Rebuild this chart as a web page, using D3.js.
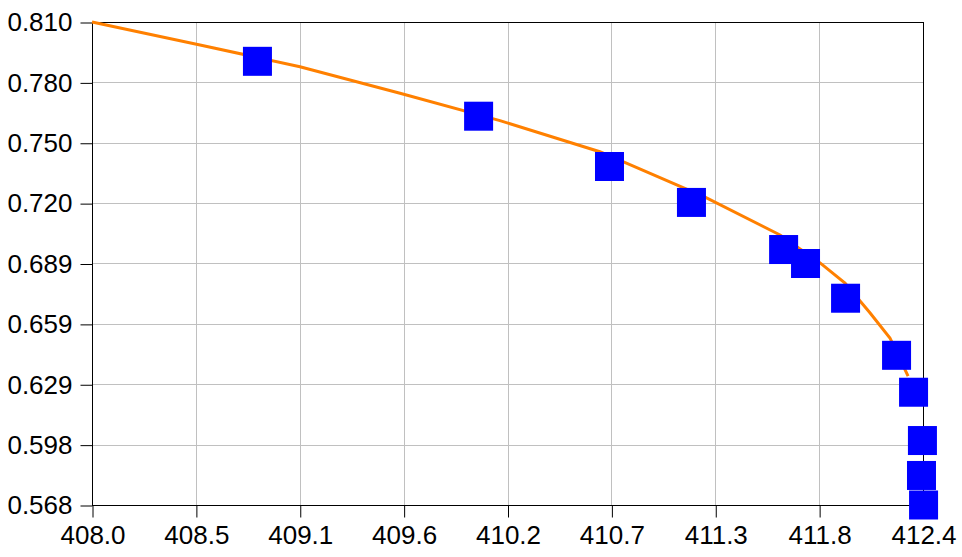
<!DOCTYPE html>
<html lang='en'>
<head>
	<meta charset='UTF-8'>
	<title>Document</title>
	<style>
		body { margin: 0; background: #fff; }
		text { font-family: 'Liberation Sans', Arial, sans-serif; }
	</style>
</head>
<body>

<svg></svg>

<script src='https://d3js.org/d3.v7.min.js'></script>
<script>
// measured points (blue squares)
const pointX = [408.876, 410.047, 410.740, 411.174, 411.662, 411.778, 411.990, 412.260, 412.350, 412.397, 412.392, 412.403]
const pointY = [0.7903, 0.7628, 0.7376, 0.7196, 0.6960, 0.6890, 0.6716, 0.6430, 0.6245, 0.6003, 0.5828, 0.5680]

// fitted curve (orange)
const curveX = [408.000, 408.572, 409.101, 409.631, 410.160, 410.689, 411.246, 411.643, 411.855, 411.987, 412.120, 412.225, 412.321]
const curveY = [0.8100, 0.7985, 0.7876, 0.7743, 0.7606, 0.7450, 0.7223, 0.7033, 0.6893, 0.6792, 0.6642, 0.6517, 0.6326]

const xTickLabels = ['408.0', '408.5', '409.1', '409.6', '410.2', '410.7', '411.3', '411.8', '412.4']
const yTickLabels = ['0.568', '0.598', '0.629', '0.659', '0.689', '0.720', '0.750', '0.780', '0.810']

const width = 962
const height = 557
const plotL = 92, plotR = 923, plotT = 22, plotB = 505
const markerSize = 29

const svg = d3.select('svg')
	.attr('width', width)
	.attr('height', height)

const x = d3.scaleLinear().domain([408.0, 412.4]).range([plotL, plotR])
const y = d3.scaleLinear().domain([0.568, 0.810]).range([plotB, plotT])

const xTicks = xTickLabels.map((d, i) => 408.0 + i * 0.55)
const yTicks = yTickLabels.map((d, i) => 0.568 + i * (0.810 - 0.568) / 8)

// grid
svg.append('g')
	.selectAll('line')
	.data(xTicks.slice(1, -1))
	.enter().append('line')
	.attr('x1', d => Math.round(x(d)) + 0.5).attr('x2', d => Math.round(x(d)) + 0.5)
	.attr('y1', plotT).attr('y2', plotB)
	.attr('stroke', '#c0c0c0')
svg.append('g')
	.selectAll('line')
	.data(yTicks.slice(1, -1))
	.enter().append('line')
	.attr('y1', d => Math.round(y(d)) + 0.5).attr('y2', d => Math.round(y(d)) + 0.5)
	.attr('x1', plotL).attr('x2', plotR)
	.attr('stroke', '#c0c0c0')

// frame
svg.append('rect')
	.attr('x', plotL + 0.5).attr('y', plotT + 0.5)
	.attr('width', plotR - plotL).attr('height', plotB - plotT)
	.attr('fill', 'none').attr('stroke', 'black')

// axes
svg.append('g')
	.attr('transform', `translate(0.5,${plotB + 0.5})`)
	.call(d3.axisBottom(x).tickValues(xTicks).tickFormat((d, i) => xTickLabels[i]).tickSize(12).tickPadding(8).tickSizeOuter(0))
svg.append('g')
	.attr('transform', `translate(${plotL + 0.5},0.5)`)
	.call(d3.axisLeft(y).tickValues(yTicks).tickFormat((d, i) => yTickLabels[i]).tickSize(12).tickPadding(8).tickSizeOuter(0))

svg.selectAll('.domain').remove()
svg.selectAll('.tick line').attr('stroke', 'black')
svg.selectAll('.tick text')
	.attr('fill', 'black')
	.style('font-size', '26px')
	.style('font-family', "'Liberation Sans', Arial, sans-serif")

// curve
const line = d3.line()
	.x((d, i) => x(curveX[i]))
	.y(d => y(d))
svg.append('path')
	.datum(curveY)
	.attr('d', line)
	.attr('fill', 'none')
	.attr('stroke', '#ff8000')
	.attr('stroke-width', 3)

// markers
svg.append('g')
	.selectAll('rect')
	.data(pointY)
	.enter().append('rect')
	.attr('x', (d, i) => x(pointX[i]) - markerSize / 2)
	.attr('y', d => y(d) - markerSize / 2)
	.attr('width', markerSize)
	.attr('height', markerSize)
	.attr('fill', '#0000ff')
</script>
</body>
</html>
